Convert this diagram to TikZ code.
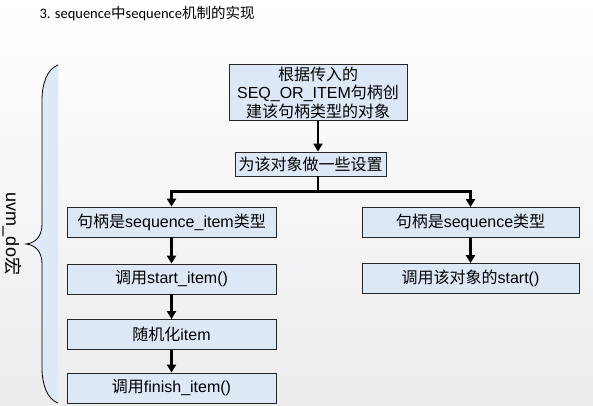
\documentclass[tikz,border=0pt]{standalone}
\usepackage{fontspec}
\setmainfont{Liberation Sans}
\newfontfamily\cjk{Noto Sans CJK SC}
\newfontfamily\titlefont{Carlito}
\usetikzlibrary{arrows.meta}
\definecolor{boxblue}{HTML}{DCE8F6}
\definecolor{bracefill}{HTML}{DDE9F7}
\definecolor{bgbottom}{HTML}{ECECEF}
\begin{document}
\begin{tikzpicture}[x=1pt,y=-1pt]
	\tikzstyle{flow box}=[draw=black!85,fill=boxblue,line width=0.8pt,minimum height=30pt,inner sep=2pt,font=\fontsize{16}{18.5}\selectfont]
	\tikzstyle{flow}=[line width=2.4pt,-{Triangle[width=9pt,length=8pt]}]
	\shade[top color=white,bottom color=bgbottom](0,0)rectangle(593,405);
	\useasboundingbox(0,0)rectangle(593,405);
	\node(title)[anchor=west,font=\titlefont\fontsize{14.5}{17}\selectfont]at(36,14){3. sequence{\cjk 中}sequence{\cjk 机制的实现}};
	% main steps
	\node(make)[flow box,minimum width=178pt,minimum height=56pt,align=center]at(318,92.5)
		{{\cjk 根据传入的}\\SEQ\_OR\_ITEM{\cjk 句柄创}\\{\cjk 建该句柄类型的对象}};
	\node(set)[flow box,minimum width=151pt,minimum height=24pt]at(310.5,164){\cjk 为该对象做一些设置};
	\node(itemtype)[flow box,minimum width=209pt]at(171.5,222){{\cjk 句柄是}sequence\_item{\cjk 类型}};
	\node(startitem)[flow box,minimum width=209pt]at(171.5,279){{\cjk 调用}start\_item()};
	\node(rand)[flow box,minimum width=209pt]at(171.5,334.5){{\cjk 随机化}item};
	\node(finish)[flow box,minimum width=209pt]at(171.5,388){{\cjk 调用}finish\_item()};
	\node(seqtype)[flow box,minimum width=217pt]at(470.5,222.5){{\cjk 句柄是}sequence{\cjk 类型}};
	\node(start)[flow box,minimum width=217pt]at(470.5,278.5){{\cjk 调用该对象的}start()};
	% connectors
	\draw[flow](make.south)to(make.south|-set.north);
	\draw[line width=2.4pt](make.south|-set.south)--++(0,15)coordinate(split);
	\draw[flow](split)-|(itemtype.north);
	\draw[flow](split)-|(seqtype.north);
	\draw[flow](itemtype)to(startitem);
	\draw[flow](startitem)to(rand);
	\draw[flow](rand)to(finish);
	\draw[flow](seqtype)to(start);
	% brace
	\fill[bracefill](58,65)..controls(47,69)and(42,84)..(42,100)--(42,224)..controls(42,237)and(35,243)..(26,244)
		..controls(35,245)and(42,251)..(42,264)--(42,368)..controls(42,384)and(47,399)..(58,403)--cycle;
	\draw[line width=0.8pt](58,65)..controls(47,69)and(42,84)..(42,100)--(42,224)..controls(42,237)and(35,243)..(26,244)
		..controls(35,245)and(42,251)..(42,264)--(42,368)..controls(42,384)and(47,399)..(58,403);
	\node(macro)[rotate=-90,font=\fontsize{18}{20}\selectfont]at(12,234){uvm\_do{\cjk 宏}};
\end{tikzpicture}
\end{document}
